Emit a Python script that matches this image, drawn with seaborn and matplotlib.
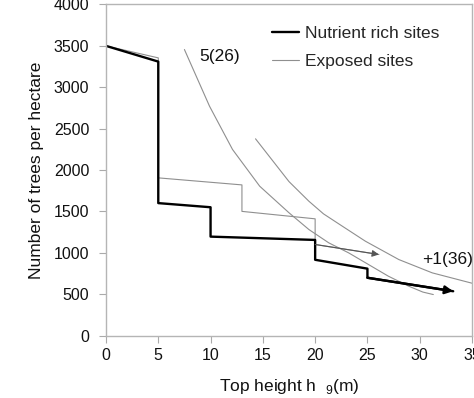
import pandas as pd
import matplotlib
matplotlib.use('Agg')
import matplotlib.pyplot as plt
import seaborn as sns

# stepped thinning programmes (top height in m, trees per hectare)
rich_x = [0, 5, 5, 10, 10, 20, 20, 25, 25, 33.2]
rich_y = [3500, 3310, 1600, 1550, 1195, 1155, 915, 808, 698, 535]
exposed_x = [0, 5, 5, 13, 13, 20, 20, 26.1]
exposed_y = [3500, 3355, 1905, 1820, 1500, 1410, 1100, 979]

# reference curves
curve1_x = [7.5, 9.9, 12.1, 14.7, 17.5, 19.4, 21.3, 23.2, 25.1, 27.0, 28.95, 30.3, 31.3]
curve1_y = [3456, 2771, 2248, 1804, 1483, 1281, 1120, 999, 858, 717, 596, 525, 495]
curve2_x = [14.3, 17.5, 19.4, 20.8, 22.6, 24.8, 28.0, 31.2, 35.0]
curve2_y = [2377, 1860, 1623, 1470, 1321, 1140, 918, 757, 632]

x_ticks = [0, 5, 10, 15, 20, 25, 30, 35]
y_ticks = [0, 500, 1000, 1500, 2000, 2500, 3000, 3500, 4000]

sns.set_style('white')
plt.rcParams['font.family'] = ['Liberation Sans', 'DejaVu Sans']

fig = plt.figure(figsize=(4.74, 3.98), dpi=100)
ax = fig.add_axes([0.2236, 0.157, 0.7722, 0.8317])

grey = '#8f8f8f'
df_rich = pd.DataFrame({'x': rich_x, 'y': rich_y})
df_exp = pd.DataFrame({'x': exposed_x, 'y': exposed_y})
df_c1 = pd.DataFrame({'x': curve1_x, 'y': curve1_y})
df_c2 = pd.DataFrame({'x': curve2_x, 'y': curve2_y})

line_kw = dict(x='x', y='y', sort=False, estimator=None, ax=ax)
sns.lineplot(data=df_c1, color=grey, lw=0.8, **line_kw)
sns.lineplot(data=df_c2, color=grey, lw=0.8, **line_kw)
sns.lineplot(data=df_exp, color=grey, lw=0.8, label='Exposed sites', **line_kw)
sns.lineplot(data=df_rich, color='black', lw=1.7, label='Nutrient rich sites', **line_kw)

# arrow heads at the ends of the programmes
ax.annotate('', xy=(rich_x[-1], rich_y[-1]), xytext=(rich_x[-2], rich_y[-2]),
            arrowprops=dict(arrowstyle='-|>', color='black', lw=1.7,
                            mutation_scale=12, shrinkA=0, shrinkB=0))
ax.annotate('', xy=(exposed_x[-1], exposed_y[-1]), xytext=(exposed_x[-2], exposed_y[-2]),
            arrowprops=dict(arrowstyle='-|>', color='#555555', lw=0.8,
                            mutation_scale=10, shrinkA=0, shrinkB=0,
                            facecolor='white'))

ax.text(8.95, 3370, '5(26)', fontsize=12.5, va='center', ha='left', color='#111111')
ax.text(30.2, 920, '+1(36)', fontsize=12.5, va='center', ha='left', clip_on=True,
        color='#111111')

ax.set_xlim(0, 35)
ax.set_ylim(0, 4000)
ax.set_xticks(x_ticks)
ax.set_yticks(y_ticks)
ax.tick_params(axis='both', direction='out', length=5, width=0.8, color='#aaaaaa',
               labelsize=11.5, labelcolor='#111111', pad=4, left=True, bottom=True)
ax.tick_params(axis='y', pad=7)
for s in ax.spines.values():
    s.set_color('#b5b5b5')
    s.set_linewidth(1.0)

ax.set_ylabel('Number of trees per hectare', fontsize=12.5, labelpad=7, color='#111111')
ax.set_xlabel(r'Top height h  $_{\mathregular{9}}$(m)', fontsize=12.5, labelpad=10,
              color='#111111')

handles, labels = ax.get_legend_handles_labels()
ax.legend(handles[::-1], labels[::-1], loc='upper left', bbox_to_anchor=(0.453, 0.935),
          frameon=False, fontsize=12.5, borderpad=0, borderaxespad=0,
          handlelength=1.55, handletextpad=0.35, labelspacing=0.75)

fig.savefig('out.png', dpi=100)
